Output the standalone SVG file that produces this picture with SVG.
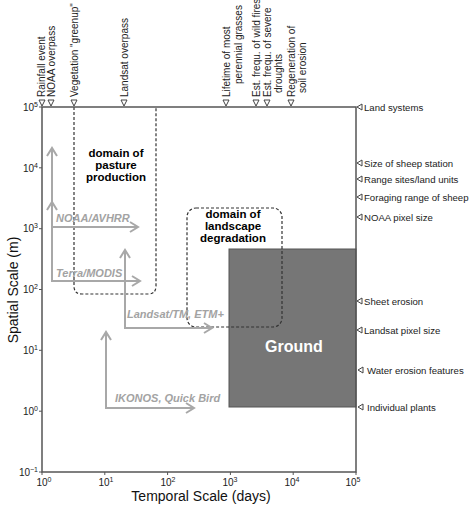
<svg xmlns="http://www.w3.org/2000/svg" width="474" height="505" viewBox="0 0 474 505">
<style>
text{font-family:"Liberation Sans",Arial,sans-serif;}
.lab{font-size:10px;fill:#222;}
.rlab{font-size:9.6px;fill:#222;}
.tick{font-size:10px;fill:#222;}
.sup{font-size:7px;}
.axt{font-size:14px;fill:#111;}
.dom2{font-size:11.5px;font-weight:bold;fill:#000;text-anchor:middle;}
.sat{font-size:11px;font-weight:bold;font-style:italic;fill:#a3a3a3;}
.frame{fill:none;stroke:#555;stroke-width:1.5;}
.dash{fill:none;stroke:#333;stroke-width:1.2;stroke-dasharray:3,2;}
.arr{fill:none;stroke:#a8a8a8;stroke-width:2;marker-start:url(#ah);marker-end:url(#ah);}
.tri{fill:#fff;stroke:#444;stroke-width:1;}
</style>
<defs>
<marker id="ah" viewBox="-10 -7 12 14" refX="0" refY="0" markerWidth="12" markerHeight="14" markerUnits="userSpaceOnUse" orient="auto-start-reverse">
<path d="M-8,-5 L0,0 L-8,5" fill="none" stroke="#a8a8a8" stroke-width="2"/>
</marker>
</defs>
<rect width="474" height="505" fill="#fff"/>

<g id="ground">
<rect x="229" y="249" width="127" height="158" fill="#767676" stroke="#555" stroke-width="1"/>
<text x="294" y="352" font-size="16" font-weight="bold" fill="#fff" text-anchor="middle">Ground</text>
</g>

<g id="pasture-domain">
<path class="dash" d="M74,107 V286 Q74,294 82,294 H148 Q156,294 156,286 V107"/>
<text class="dom2" x="116" y="157">domain of</text>
<text class="dom2" x="116" y="169">pasture</text>
<text class="dom2" x="116" y="181">production</text>
</g>

<g id="degradation-domain">
<rect class="dash" x="187" y="208" width="95" height="119" rx="9"/>
<text class="dom2" x="233" y="218">domain of</text>
<text class="dom2" x="233" y="230">landscape</text>
<text class="dom2" x="233" y="242">degradation</text>
</g>

<g id="frame">
<rect class="frame" x="42" y="107" width="314" height="365"/>
<path d="M42,107 h-3 M42,167.8 h-3 M42,228.7 h-3 M42,289.5 h-3 M42,350.3 h-3 M42,411.2 h-3 M42,472 h-3 M42,472 v3 M104.8,472 v3 M167.6,472 v3 M230.4,472 v3 M293.2,472 v3 M356,472 v3" stroke="#555" stroke-width="1"/>
</g>

<g id="y-ticks" text-anchor="end">
<text class="tick" x="38" y="111">10<tspan class="sup" dy="-4">5</tspan></text>
<text class="tick" x="38" y="172">10<tspan class="sup" dy="-4">4</tspan></text>
<text class="tick" x="38" y="232">10<tspan class="sup" dy="-4">3</tspan></text>
<text class="tick" x="38" y="293">10<tspan class="sup" dy="-4">2</tspan></text>
<text class="tick" x="38" y="354">10<tspan class="sup" dy="-4">1</tspan></text>
<text class="tick" x="38" y="415">10<tspan class="sup" dy="-4">0</tspan></text>
<text class="tick" x="38" y="476">10<tspan class="sup" dy="-4">−1</tspan></text>
</g>
<g id="x-ticks" text-anchor="middle">
<text class="tick" x="44" y="486">10<tspan class="sup" dy="-4">0</tspan></text>
<text class="tick" x="106" y="486">10<tspan class="sup" dy="-4">1</tspan></text>
<text class="tick" x="168" y="486">10<tspan class="sup" dy="-4">2</tspan></text>
<text class="tick" x="230" y="486">10<tspan class="sup" dy="-4">3</tspan></text>
<text class="tick" x="292" y="486">10<tspan class="sup" dy="-4">4</tspan></text>
<text class="tick" x="353" y="486">10<tspan class="sup" dy="-4">5</tspan></text>
</g>
<text id="x-title" class="axt" x="201" y="501" text-anchor="middle">Temporal Scale (days)</text>
<text id="y-title" class="axt" x="18" y="290" text-anchor="middle" transform="rotate(-90 18 290)">Spatial Scale (m)</text>

<g id="top-markers">
<path class="tri" d="M39,100 L45,100 L42,106 Z"/>
<path class="tri" d="M48,100 L54,100 L51,106 Z"/>
<path class="tri" d="M71,100 L77,100 L74,106 Z"/>
<path class="tri" d="M121,100 L127,100 L124,106 Z"/>
<path class="tri" d="M223,100 L229,100 L226,106 Z"/>
<path class="tri" d="M253,100 L259,100 L256,106 Z"/>
<path class="tri" d="M264,100 L270,100 L267,106 Z"/>
<path class="tri" d="M288,100 L294,100 L291,106 Z"/>
</g>
<g id="top-labels">
<text class="lab" transform="translate(45,97) rotate(-90)">Rainfall event</text>
<text class="lab" transform="translate(55,97) rotate(-90)">NOAA overpass</text>
<text class="lab" transform="translate(78,97) rotate(-90)">Vegetation "greenup"</text>
<text class="lab" transform="translate(128,97) rotate(-90)">Landsat overpass</text>
<text class="lab" transform="translate(230,97) rotate(-90)">Lifetime of most</text>
<text class="lab" transform="translate(242,84) rotate(-90)">perennial grasses</text>
<text class="lab" transform="translate(260,97) rotate(-90)">Est. frequ. of wild fires</text>
<text class="lab" transform="translate(271,97) rotate(-90)">Est. frequ. of severe</text>
<text class="lab" transform="translate(282,93) rotate(-90)">droughts</text>
<text class="lab" transform="translate(295,97) rotate(-90)">Regeneration of</text>
<text class="lab" transform="translate(306,93) rotate(-90)">soil erosion</text>
</g>

<g id="right-markers">
<path class="tri" d="M362,104 L362,110 L357,107 Z"/>
<path class="tri" d="M362,160 L362,166 L357,163 Z"/>
<path class="tri" d="M362,176 L362,182 L357,179 Z"/>
<path class="tri" d="M362,194 L362,200 L357,197 Z"/>
<path class="tri" d="M362,214 L362,220 L357,217 Z"/>
<path class="tri" d="M362,298 L362,304 L357,301 Z"/>
<path class="tri" d="M362,327 L362,333 L357,330 Z"/>
<path class="tri" d="M363,367 L363,373 L358,370 Z"/>
<path class="tri" d="M363,404 L363,410 L358,407 Z"/>
</g>
<g id="right-labels">
<text class="rlab" x="364" y="111">Land systems</text>
<text class="rlab" x="364" y="167">Size of sheep station</text>
<text class="rlab" x="364" y="183">Range sites/land units</text>
<text class="rlab" x="364" y="201">Foraging range of sheep</text>
<text class="rlab" x="364" y="221">NOAA pixel size</text>
<text class="rlab" x="364" y="305">Sheet erosion</text>
<text class="rlab" x="364" y="334">Landsat pixel size</text>
<text class="rlab" x="367" y="374">Water erosion features</text>
<text class="rlab" x="367" y="411">Individual plants</text>
</g>

<g id="connectors">
<path class="arr" d="M52,148 V281 H140"/>
<path class="arr" d="M52,202 V227 H138"/>
<path class="arr" d="M125,250 V328 H212"/>
<path class="arr" d="M106,332 V408 H194"/>
</g>
<g id="sensor-labels">
<text class="sat" x="56" y="222">NOAA/AVHRR</text>
<text class="sat" x="56" y="277">Terra/MODIS</text>
<text class="sat" x="127" y="318">Landsat/TM, ETM+</text>
<text class="sat" x="115" y="402">IKONOS, Quick Bird</text>
</g>
</svg>
